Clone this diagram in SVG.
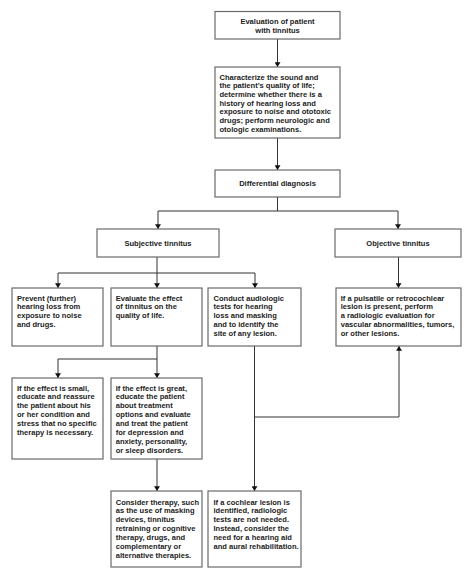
<svg xmlns="http://www.w3.org/2000/svg" width="474" height="580" viewBox="0 0 474 580">
<defs>
<style>
.box{fill:#fff;stroke:#6a6a6a;stroke-width:1.2}
.t{font-family:"Liberation Sans",Arial,sans-serif;font-weight:bold;font-size:7.55px;fill:#222}
.c{text-anchor:middle}
.ln{fill:none;stroke:#333;stroke-width:1}
</style>
<marker id="ah" viewBox="0 0 8 10" refX="8" refY="5" markerWidth="5" markerHeight="6" orient="auto" markerUnits="userSpaceOnUse">
<path d="M0,0 L8,5 L0,10 Z" fill="#111"/>
</marker>
</defs>
<rect width="474" height="580" fill="#fff"/>

<g id="connectors">
<path class="ln" d="M277.5,39 V67" marker-end="url(#ah)"/>
<path class="ln" d="M277.5,138 V170" marker-end="url(#ah)"/>
<path class="ln" d="M277.5,197 V211 M158,211 H398"/>
<path class="ln" d="M158,211 V229" marker-end="url(#ah)"/>
<path class="ln" d="M398,211 V229" marker-end="url(#ah)"/>
<path class="ln" d="M157,257 V273 M58,273 H255"/>
<path class="ln" d="M58,273 V288" marker-end="url(#ah)"/>
<path class="ln" d="M157,273 V288" marker-end="url(#ah)"/>
<path class="ln" d="M255,273 V288" marker-end="url(#ah)"/>
<path class="ln" d="M398.5,257 V288" marker-end="url(#ah)"/>
<path class="ln" d="M157,346 V359 M58,359 H157"/>
<path class="ln" d="M58,359 V378" marker-end="url(#ah)"/>
<path class="ln" d="M157,359 V378" marker-end="url(#ah)"/>
<path class="ln" d="M157,459 V491" marker-end="url(#ah)"/>
<path class="ln" d="M254.5,346 V491" marker-end="url(#ah)"/>
<path class="ln" d="M254.5,417 H399 V346" marker-end="url(#ah)"/>
</g>

<g id="n-eval">
<rect class="box" x="215" y="11.5" width="125" height="27.5"/>
<text class="t c" x="277.5" y="23.5">Evaluation of patient</text>
<text class="t c" x="277.5" y="32.5">with tinnitus</text>
</g>

<g id="n-characterize">
<rect class="box" x="215" y="67" width="125" height="71"/>
<text class="t" x="219.5" y="79.5">Characterize the sound and</text>
<text class="t" x="219.5" y="88.2">the patient’s quality of life;</text>
<text class="t" x="219.5" y="96.9">determine whether there is a</text>
<text class="t" x="219.5" y="105.6">history of hearing loss and</text>
<text class="t" x="219.5" y="114.3">exposure to noise and ototoxic</text>
<text class="t" x="219.5" y="123">drugs; perform neurologic and</text>
<text class="t" x="219.5" y="131.7">otologic examinations.</text>
</g>

<g id="n-differential">
<rect class="box" x="215" y="170" width="125" height="27"/>
<text class="t c" x="277.5" y="186.2">Differential diagnosis</text>
</g>

<g id="n-subjective">
<rect class="box" x="97" y="229" width="122" height="28"/>
<text class="t c" x="158" y="245.7">Subjective tinnitus</text>
</g>

<g id="n-objective">
<rect class="box" x="335" y="229" width="126" height="28"/>
<text class="t c" x="398" y="245.7">Objective tinnitus</text>
</g>

<g id="n-prevent">
<rect class="box" x="12" y="288" width="91" height="58"/>
<text class="t" x="17" y="300.5">Prevent (further)</text>
<text class="t" x="17" y="309.4">hearing loss from</text>
<text class="t" x="17" y="318.3">exposure to noise</text>
<text class="t" x="17" y="327.2">and drugs.</text>
</g>

<g id="n-evaluate">
<rect class="box" x="111" y="288" width="91" height="58"/>
<text class="t" x="115.7" y="300.5">Evaluate the effect</text>
<text class="t" x="115.7" y="309.4">of tinnitus on  the</text>
<text class="t" x="115.7" y="318.3">quality of life.</text>
</g>

<g id="n-conduct">
<rect class="box" x="208" y="288" width="93" height="58"/>
<text class="t" x="213.5" y="300.5">Conduct audiologic</text>
<text class="t" x="213.5" y="309.4">tests for hearing</text>
<text class="t" x="213.5" y="318.3">loss and masking</text>
<text class="t" x="213.5" y="327.2">and to identify the</text>
<text class="t" x="213.5" y="336.1">site of any lesion.</text>
</g>

<g id="n-pulsatile">
<rect class="box" x="336" y="288" width="125" height="58"/>
<text class="t" x="340.7" y="300.5">If a pulsatile or retrocochlear</text>
<text class="t" x="340.7" y="309.4">lesion is present, perform</text>
<text class="t" x="340.7" y="318.3">a radiologic evaluation for</text>
<text class="t" x="340.7" y="327.2">vascular abnormalities, tumors,</text>
<text class="t" x="340.7" y="336.1">or other lesions.</text>
</g>

<g id="n-small">
<rect class="box" x="12" y="378" width="91" height="81"/>
<text class="t" x="17" y="390.5">If the effect is small,</text>
<text class="t" x="17" y="399.4">educate and reassure</text>
<text class="t" x="17" y="408.3">the patient about his</text>
<text class="t" x="17" y="417.2">or her condition and</text>
<text class="t" x="17" y="426.1">stress that no specific</text>
<text class="t" x="17" y="435">therapy is necessary.</text>
</g>

<g id="n-great">
<rect class="box" x="111" y="378" width="91" height="81"/>
<text class="t" x="115.7" y="390.5">If the effect is great,</text>
<text class="t" x="115.7" y="399.4">educate the patient</text>
<text class="t" x="115.7" y="408.3">about treatment</text>
<text class="t" x="115.7" y="417.2">options and evaluate</text>
<text class="t" x="115.7" y="426.1">and treat the patient</text>
<text class="t" x="115.7" y="435">for depression and</text>
<text class="t" x="115.7" y="443.9">anxiety, personality,</text>
<text class="t" x="115.7" y="452.8">or sleep disorders.</text>
</g>

<g id="n-consider">
<rect class="box" x="111" y="491" width="91" height="76"/>
<text class="t" x="115.7" y="504.5">Consider therapy, such</text>
<text class="t" x="115.7" y="513.4">as the use of masking</text>
<text class="t" x="115.7" y="522.3">devices, tinnitus</text>
<text class="t" x="115.7" y="531.2">retraining or cognitive</text>
<text class="t" x="115.7" y="540.1">therapy, drugs, and</text>
<text class="t" x="115.7" y="549">complementary or</text>
<text class="t" x="115.7" y="557.9">alternative therapies.</text>
</g>

<g id="n-cochlear">
<rect class="box" x="208" y="491" width="93" height="76"/>
<text class="t" x="213.5" y="504.5">If a cochlear lesion is</text>
<text class="t" x="213.5" y="513.4">identified, radiologic</text>
<text class="t" x="213.5" y="522.3">tests are not needed.</text>
<text class="t" x="213.5" y="531.2">Instead, consider the</text>
<text class="t" x="213.5" y="540.1">need for a hearing aid</text>
<text class="t" x="213.5" y="549">and aural rehabilitation.</text>
</g>
</svg>
